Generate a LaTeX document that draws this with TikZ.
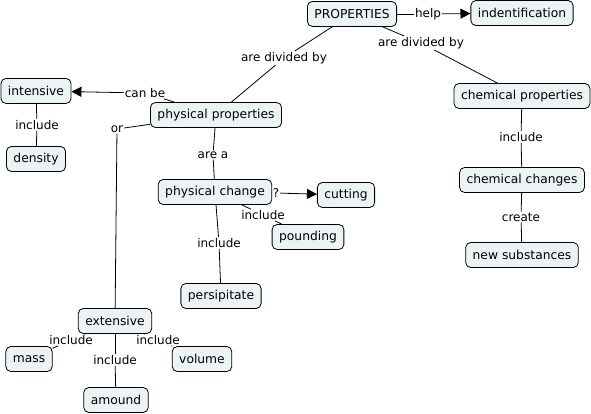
\documentclass[tikz,border=0pt]{standalone}
\usepackage{fontspec}
\setmainfont{DejaVu Sans}
\usetikzlibrary{arrows.meta}
\definecolor{boxfill}{RGB}{236,243,245}
\tikzset{
  concept/.style={draw=black, fill=boxfill, rounded corners=5pt, inner xsep=7pt, inner ysep=0pt,
    minimum height=25pt, font=\fontsize{12.3}{14}\selectfont, line width=0.8pt},
  lbl/.style={inner sep=1pt, font=\fontsize{12}{14}\selectfont},
  conn/.style={draw=black, line width=0.8pt},
  arr/.style={conn, -{Triangle[length=10pt,width=10pt]}}
}
\begin{document}
\begin{tikzpicture}[x=1pt,y=-1pt]
\useasboundingbox (0,0) rectangle (591,414);
% concepts
\node[concept] (props) at (352,14) {PROPERTIES};
\node[concept] (ident) at (522,13) {indentification};
\node[concept] (chemprop) at (522,96) {chemical properties};
\node[concept] (chemchg) at (522,180) {chemical changes};
\node[concept] (newsub) at (522,255) {new substances};
\node[concept] (cutting) at (346,195) {cutting};
\node[concept] (pounding) at (308,237) {pounding};
\node[concept] (physchg) at (215,192) {physical change};
\node[concept] (persip) at (221,296) {persipitate};
\node[concept] (extensive) at (115,321) {extensive};
\node[concept] (mass) at (29,359) {mass};
\node[concept] (volume) at (202,359) {volume};
\node[concept] (amound) at (116,400) {amound};
\node[concept] (intensive) at (36,91) {intensive};
\node[concept] (density) at (36,159) {density};
\node[concept] (physprop) at (216,115) {physical properties};
% labels
\node[lbl] (help) at (428,14) {help};
\node[lbl] (divL) at (284,58) {are divided by};
\node[lbl] (divR) at (421,43) {are divided by};
\node[lbl] (canbe) at (145,93) {can be};
\node[lbl] (or) at (117,129) {or};
\node[lbl] (incInt) at (37,125) {include};
\node[lbl] (areA) at (213,155) {are a};
\node[lbl] (q) at (276,193) {?};
\node[lbl] (incPound) at (263,215) {include};
\node[lbl] (incPers) at (219,243) {include};
\node[lbl] (incChem) at (521,137) {include};
\node[lbl] (create) at (521,217) {create};
\node[lbl] (incMass) at (71,340) {include};
\node[lbl] (incAm) at (115,360) {include};
\node[lbl] (incVol) at (158,340) {include};
% connectors
\draw[conn] (props) -- (help);
\draw[arr] (help) -- (ident);
\draw[conn] (props) -- (divL);
\draw[conn] (divL) -- (physprop);
\draw[conn] (props) -- (divR);
\draw[conn] (divR) -- (chemprop);
\draw[conn] (chemprop) -- (incChem);
\draw[conn] (incChem) -- (chemchg);
\draw[conn] (chemchg) -- (create);
\draw[conn] (create) -- (newsub);
\draw[conn] (physprop) -- (canbe);
\draw[arr] (canbe) -- (intensive);
\draw[conn] (intensive) -- (incInt);
\draw[conn] (incInt) -- (density);
\draw[conn] (physprop) -- (or);
\draw[conn] (or) -- (extensive);
\draw[conn] (physprop) -- (areA);
\draw[conn] (areA) -- (physchg);
\draw[conn] (physchg) -- (q);
\draw[arr] (q) -- (cutting);
\draw[conn] (physchg) -- (incPound);
\draw[conn] (incPound) -- (pounding);
\draw[conn] (physchg) -- (incPers);
\draw[conn] (incPers) -- (persip);
\draw[conn] (extensive) -- (incMass);
\draw[conn] (incMass) -- (mass);
\draw[conn] (extensive) -- (incAm);
\draw[conn] (incAm) -- (amound);
\draw[conn] (extensive) -- (incVol);
\draw[conn] (incVol) -- (volume);
\end{tikzpicture}
\end{document}
